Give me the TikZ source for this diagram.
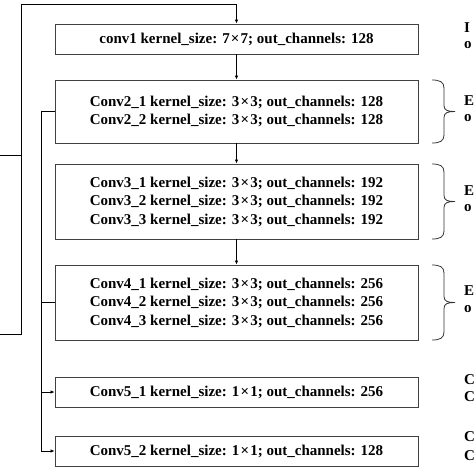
\documentclass[tikz,border=0pt]{standalone}
\usepackage{fontspec}
\setmainfont{Liberation Serif}
\usetikzlibrary{arrows.meta}
\newcommand\tms{\kern0.08em×\kern0.08em}
\newcommand\mybrace[2]{%
  \pgfmathsetmacro\bm{(#1+#2)/2}%
  \draw[bracestyle] (432,#1) .. controls (440,#1) and (444,#1+2) .. (444,#1+8)
    -- (444,\bm-6) .. controls (444,\bm-1) and (448,\bm) .. (455,\bm)
    .. controls (448,\bm) and (444,\bm+1) .. (444,\bm+6)
    -- (444,#2-8) .. controls (444,#2-2) and (440,#2) .. (432,#2);}
\begin{document}
\begin{tikzpicture}[x=1pt,y=-1pt,
  box/.style={draw=black!75, line width=0.9pt, minimum width=363pt, inner sep=0pt,
    align=center, font=\fontsize{15}{18.5}\selectfont\bfseries},
  line/.style={draw=black, line width=0.8pt},
  arr/.style={line, -{Latex[length=4pt,width=3.5pt]}},
  bracestyle/.style={draw=black!80, line width=0.8pt},
  side/.style={anchor=west, inner sep=0pt, font=\fontsize{15}{18.5}\selectfont\bfseries}]
\useasboundingbox (0,0) rectangle (474,474);
\node[box, minimum height=30pt] (c1) at (236.5,39) {conv1 kernel\_size: 7\tms7; out\_channels: 128};
\node[box, minimum height=63pt] (c2) at (236.5,111.5) {Conv2\_1 kernel\_size: 3\tms3; out\_channels: 128\\Conv2\_2 kernel\_size: 3\tms3; out\_channels: 128};
\node[box, minimum height=75pt] (c3) at (236.5,201.5) {Conv3\_1 kernel\_size: 3\tms3; out\_channels: 192\\Conv3\_2 kernel\_size: 3\tms3; out\_channels: 192\\Conv3\_3 kernel\_size: 3\tms3; out\_channels: 192};
\node[box, minimum height=75pt] (c4) at (236.5,302.5) {Conv4\_1 kernel\_size: 3\tms3; out\_channels: 256\\Conv4\_2 kernel\_size: 3\tms3; out\_channels: 256\\Conv4\_3 kernel\_size: 3\tms3; out\_channels: 256};
\node[box, minimum height=30pt] (c51) at (236.5,392) {Conv5\_1 kernel\_size: 1\tms1; out\_channels: 256};
\node[box, minimum height=30pt] (c52) at (236.5,451) {Conv5\_2 kernel\_size: 1\tms1; out\_channels: 128};
% main chain
\draw[arr] (c1) -- (c2);
\draw[arr] (c2) -- (c3);
\draw[arr] (c3) -- (c4);
% outer loop
\coordinate (e1) at (0,155.5);
\coordinate (e2) at (0,334);
\coordinate (ob) at (21,334);
\coordinate (ot) at (21,4);
\coordinate (om) at (21,155.5);
\draw[line] (e1) -- (om);
\draw[arr] (e2) -- (ob) -- (ot) -| (c1.north);
% inner skip lines
\coordinate (it) at (41,111.5);
\coordinate (im) at (41,302.5);
\draw[line] (c2.west) -- (it);
\draw[line] (c4.west) -- (im);
\draw[arr] (it) |- (c51.west);
\draw[arr] (it) |- (c52.west);
% braces
\mybrace{80}{143}
\mybrace{164}{239}
\mybrace{265}{340}
% side labels (cut at the right edge)
\node[side] (s1a) at (464,28) {I};
\node[side] (s1b) at (464,45) {o};
\node[side] (s2a) at (464,101) {E};
\node[side] (s2b) at (464,118) {o};
\node[side] (s3a) at (464,191) {E};
\node[side] (s3b) at (464,208) {o};
\node[side] (s4a) at (464,291) {E};
\node[side] (s4b) at (464,309) {o};
\node[side] (s5a) at (464,380) {C};
\node[side] (s5b) at (464,397) {C};
\node[side] (s6a) at (464,437) {C};
\node[side] (s6b) at (464,456) {C};
\end{tikzpicture}
\end{document}
